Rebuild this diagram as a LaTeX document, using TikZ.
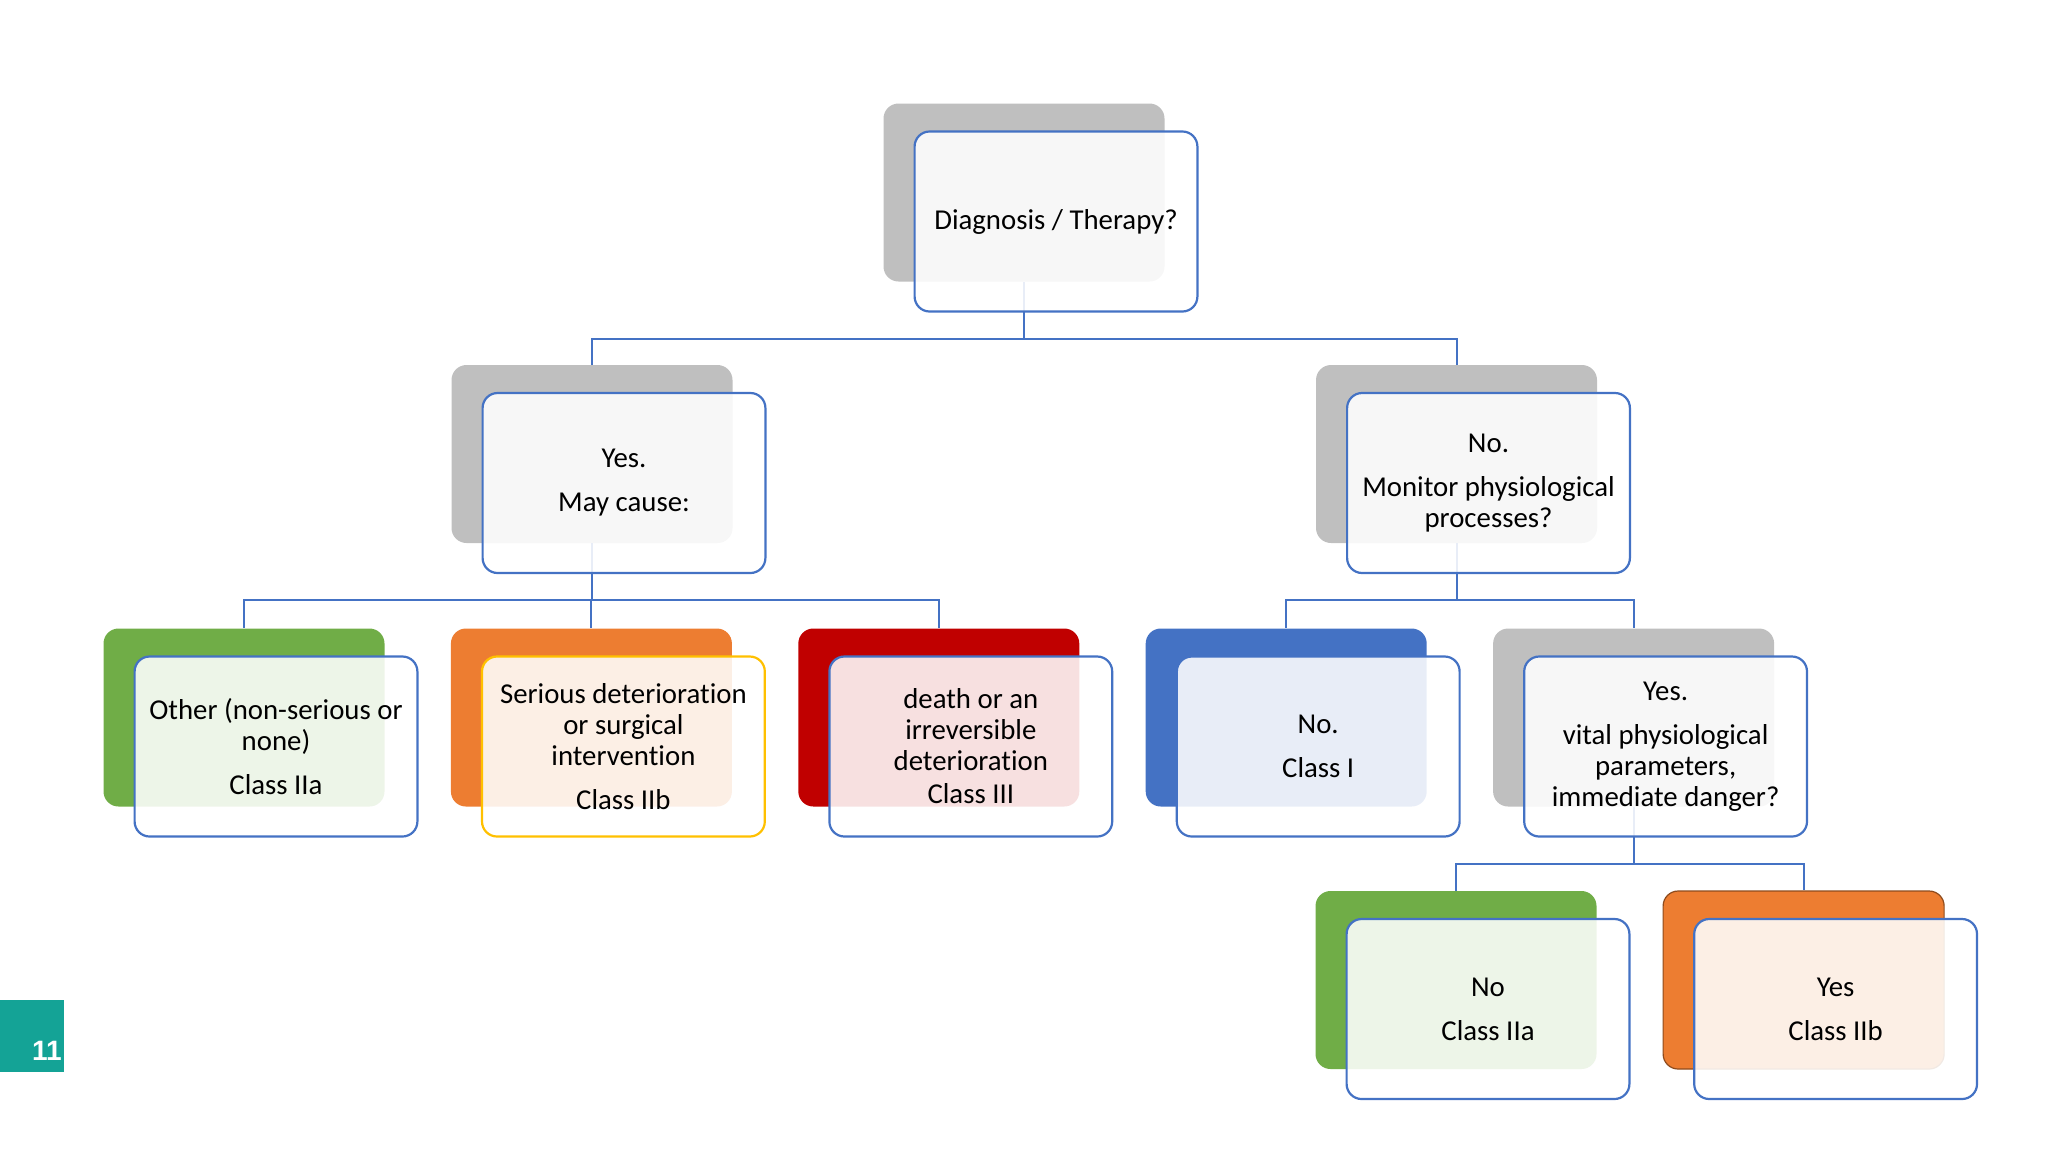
\documentclass[tikz,border=0pt]{standalone}
\usepackage{fontspec}
\setmainfont{Carlito}[Ligatures=CommonOff]
\newfontfamily\pagefont{Liberation Sans}
\usepackage{tikz}
\usetikzlibrary{positioning, calc}
\definecolor{linkblue}{RGB}{68, 114, 196}
\definecolor{boxgray}{RGB}{191, 191, 191}
\definecolor{boxgreen}{RGB}{112, 173, 71}
\definecolor{boxorange}{RGB}{237, 125, 49}
\definecolor{boxred}{RGB}{192, 0, 0}
\definecolor{boxblue}{RGB}{68, 114, 196}
\definecolor{rimyellow}{RGB}{255, 192, 0}
\definecolor{pageteal}{RGB}{20, 163, 150}
\tikzset{
  backbox/.style={rounded corners=7.5pt, minimum width=140.5pt, minimum height=89pt, inner sep=0pt},
  frontbox/.style={draw=linkblue, line width=1.1pt, fill=white, fill opacity=0.88, text opacity=1, rounded corners=7.5pt, minimum width=141.4pt, minimum height=90pt, align=center, inner sep=2pt, font=\fontsize{14.4}{15.5}\selectfont},
  link/.style={draw=linkblue, line width=1pt}
}

\begin{document}
\begin{tikzpicture}[x=0.5pt, y=-0.5pt]
    \useasboundingbox (0,0) rectangle (2048,1152);
    \node[backbox, fill=boxgray] (root) at (1024,192.5) {};
    \node[backbox, fill=boxgray] (yes) at (592,454) {};
    \node[backbox, fill=boxgray] (no) at (1456.5,454) {};
    \node[backbox, fill=boxgreen] (c1) at (244,717.5) {};
    \node[backbox, fill=boxorange, right=32.8pt of c1] (c2) {};
    \node[backbox, fill=boxred, right=32.8pt of c2] (c3) {};
    \node[backbox, fill=boxblue, right=32.8pt of c3] (c4) {};
    \node[backbox, fill=boxgray, right=32.8pt of c4] (c5) {};
    \node[backbox, fill=boxgreen] (d1) at (1456,980) {};
    \node[backbox, fill=boxorange, draw=boxorange!60!black, line width=0.6pt, right=32.8pt of d1] (d2) {};

    \draw[link] (root.south) -- ++(0,57) -| (yes.north);
    \draw[link] (root.south) -- ++(0,57) -| (no.north);
    \draw[link] (yes.south) -- ++(0,57) -| (c1.north);
    \draw[link] (yes.south) -- ++(0,57) -| (c2.north);
    \draw[link] (yes.south) -- ++(0,57) -| (c3.north);
    \draw[link] (no.south) -- ++(0,57) -| (c4.north);
    \draw[link] (no.south) -- ++(0,57) -| (c5.north);
    \draw[link] (c5.south) -- ++(0,57) -| (d1.north);
    \draw[link] (c5.south) -- ++(0,57) -| (d2.north);

    \node[frontbox] (rootf) at ($(root.center)+(32,29)$) {Diagnosis / Therapy?};
    \node[frontbox] (yesf) at ($(yes.center)+(32,29)$) {Yes.\\[6.5pt] May cause:};
    \node[frontbox] (nof) at ($(no.center)+(32,29)$) {No.\\[6.5pt] Monitor physiological\\ processes?};
    \node[frontbox] (c1f) at ($(c1.center)+(32,29)$) {Other (non-serious or\\ none)\\[6.5pt] Class IIa};
    \node[frontbox, draw=rimyellow] (c2f) at ($(c2.center)+(32,29)$) {Serious deterioration\\ or surgical\\ intervention\\[6.5pt] Class IIb};
    \node[frontbox] (c3f) at ($(c3.center)+(32,29)$) {death or an\\ irreversible\\ deterioration\\[1pt] Class III};
    \node[frontbox] (c4f) at ($(c4.center)+(32,29)$) {No.\\[6.5pt] Class I};
    \node[frontbox] (c5f) at ($(c5.center)+(32,29)$) {Yes.\\[6.5pt] vital physiological\\ parameters,\\ immediate danger?};
    \node[frontbox] (d1f) at ($(d1.center)+(32,29)$) {No\\[6.5pt] Class IIa};
    \node[frontbox] (d2f) at ($(d2.center)+(32,29)$) {Yes\\[6.5pt] Class IIb};

    \node[fill=pageteal, anchor=north west, minimum width=32pt, minimum height=36pt, inner sep=0pt] (pgbox) at (0,1000) {};
    \node[anchor=base east, text=white, inner sep=0pt, font=\pagefont\bfseries\fontsize{14}{15}\selectfont] (pgnum) at (62,1060) {11};
\end{tikzpicture}
\end{document}
